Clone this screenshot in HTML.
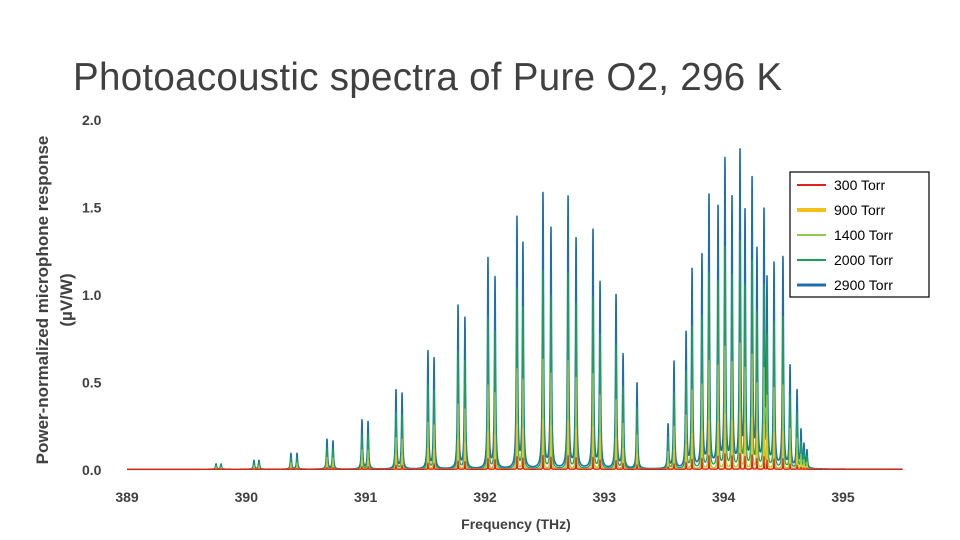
<!DOCTYPE html>
<html><head><meta charset="utf-8"><style>
body{margin:0;background:#fff;}
#wrap{position:relative;width:960px;height:540px;overflow:hidden;font-family:"Liberation Sans",sans-serif;}
#title{position:absolute;left:73px;top:56px;font-size:38.5px;color:#404040;letter-spacing:0.3px;}
svg{position:absolute;left:0;top:0;}
</style></head><body>
<div id="wrap">
<div id="title">Photoacoustic spectra of Pure O2, 296 K</div>
<svg id="chart" width="960" height="540"></svg>
</div>
<script>
const peakFreqs=[389.746,389.788,390.064,390.106,390.374,390.425,390.676,390.726,390.969,391.020,391.254,391.305,391.522,391.573,391.774,391.832,392.025,392.084,392.268,392.318,392.486,392.553,392.696,392.763,392.905,392.964,393.098,393.157,393.274,
393.534,393.584,393.685,393.735,393.818,393.877,393.953,394.011,394.070,394.137,394.179,394.238,394.279,394.338,394.363,394.422,394.497,394.556,394.615,394.648,394.673,394.698];
const peakHeights2900=[0.03,0.03,0.05,0.05,0.09,0.09,0.17,0.16,0.28,0.27,0.45,0.43,0.67,0.63,0.93,0.86,1.2,1.09,1.43,1.28,1.57,1.37,1.55,1.31,1.36,1.06,0.99,0.65,0.49,
0.25,0.61,0.77,1.13,1.21,1.55,1.48,1.75,1.53,1.79,1.44,1.63,1.22,1.43,1.03,1.16,1.2,0.58,0.44,0.21,0.13,0.1];
const seriesNames=["300 Torr","900 Torr","1400 Torr","2000 Torr","2900 Torr"];
const seriesScale=[0.05,0.18,0.4,0.72,1.0];
const seriesWidth=[0.0015,0.002,0.003,0.004,0.005];
const seriesColors=["#e0201b","#f2c018","#92c84e","#1fa05a","#1f6fad"];
const seriesStroke=[2,4,2,2,3];
const xTicks=[389,390,391,392,393,394,395];
const yTicks=[0.0,0.5,1.0,1.5,2.0];

const NS="http://www.w3.org/2000/svg";
const svg=document.getElementById('chart');
const x=f=>127+(f-389)*(843-127)/6;
const y=v=>470-v*175;
function mk(t,a){const e=document.createElementNS(NS,t);for(const k in a)e.setAttribute(k,a[k]);return e;}

yTicks.forEach(v=>{const t=mk('text',{x:82,y:y(v)+5,'font-size':14,'font-weight':'bold',fill:'#404040'});


t.textContent=v.toFixed(1);svg.appendChild(t);});
xTicks.forEach(v=>{const t=mk('text',{x:x(v),y:502,'font-size':14,'font-weight':'bold',fill:'#404040','text-anchor':'middle'});


t.textContent=v;svg.appendChild(t);});

const xt=mk('text',{x:516,y:529,'font-size':14,'font-weight':'bold',fill:'#404040','text-anchor':'middle'});


xt.textContent='Frequency (THz)';svg.appendChild(xt);
const yt=mk('text',{transform:'translate(48,300) rotate(-90)','font-size':17,'font-weight':'bold',fill:'#404040','text-anchor':'middle'});


yt.textContent='Power-normalized microphone response';svg.appendChild(yt);
const yt2=mk('text',{transform:'translate(72,300) rotate(-90)','font-size':17,'font-weight':'bold',fill:'#404040','text-anchor':'middle'});


yt2.textContent='(\u00b5V/W)';svg.appendChild(yt2);

const freqs=[];for(let f=389;f<=395.5;f+=0.0008)freqs.push(f);
peakFreqs.forEach(p=>freqs.push(p));freqs.sort((a,b)=>a-b);
for(let s=4;s>=0;s--){
  const w2=seriesWidth[s]*seriesWidth[s];let d='';
  freqs.forEach((f,i)=>{let v=0.004;
    for(let k=0;k<peakFreqs.length;k++){const dd=f-peakFreqs[k];v+=peakHeights2900[k]*seriesScale[s]*w2/(w2+dd*dd);}
    d+=(i?'L':'M')+x(f).toFixed(2)+' '+y(v).toFixed(2);});
  const p=mk('path',{d:d,fill:'none',stroke:seriesColors[s],'stroke-width':s==4?1.6:1.3,'stroke-linejoin':'round'});
  
  
  svg.appendChild(p);
}

const lg=mk('rect',{x:790,y:172,width:139,height:125,fill:'#fff',stroke:'#000','stroke-width':1.2});


svg.appendChild(lg);
seriesNames.forEach((n,i)=>{const yy=185+i*25;
  const l=mk('line',{x1:797,x2:826,y1:yy,y2:yy,stroke:seriesColors[i],'stroke-width':seriesStroke[i]});
  
  
  svg.appendChild(l);
  const t=mk('text',{x:834,y:yy+5,'font-size':14,fill:'#000'});
  
  
  t.textContent=n;svg.appendChild(t);});
</script>
</body></html>
